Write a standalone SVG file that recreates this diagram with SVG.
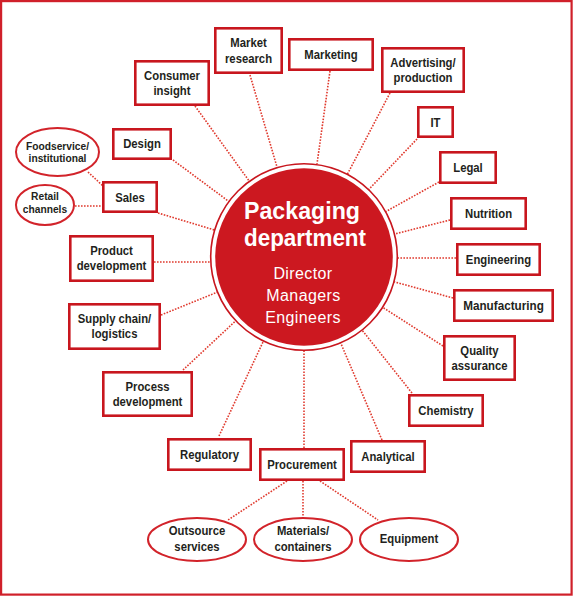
<svg xmlns="http://www.w3.org/2000/svg" width="574" height="597" viewBox="0 0 574 597">
<style>
.frame{fill:#fff;stroke:#d0202a;stroke-width:2.2}
.box rect{fill:#fff;stroke:#c8161e;stroke-width:2.6}
.ell ellipse{fill:#fff;stroke:#d2232a;stroke-width:2}
.lbl{font-family:"Liberation Sans",Arial,sans-serif;font-weight:bold;font-size:13px;fill:#231f20;text-anchor:middle}
.sm{font-size:11px}
.conn line{stroke:#e03a2e;stroke-width:1.6;stroke-dasharray:1.6 1.4}
.ct{font-family:"Liberation Sans",Arial,sans-serif;fill:#fff;text-anchor:middle}
.ctb{font-weight:bold;font-size:24px}
.cts{font-size:16px;letter-spacing:0.4px}
</style>
<rect class="frame" x="1.1" y="1.1" width="570.5" height="593.5"/>
<g id="connectors" class="conn">
<line x1="250" y1="75" x2="277" y2="167"/>
<line x1="330" y1="71" x2="317" y2="164"/>
<line x1="390" y1="93" x2="347.4" y2="174.2"/>
<line x1="417" y1="139" x2="368.7" y2="189.5"/>
<line x1="439" y1="182" x2="385.8" y2="211.6"/>
<line x1="450" y1="220" x2="394.6" y2="234"/>
<line x1="456" y1="258" x2="397.5" y2="258"/>
<line x1="453" y1="298" x2="394.2" y2="281.8"/>
<line x1="443" y1="346" x2="382.8" y2="307.4"/>
<line x1="412" y1="393" x2="362" y2="330"/>
<line x1="382" y1="440" x2="340.7" y2="343"/>
<line x1="304" y1="448" x2="304" y2="350.5"/>
<line x1="219" y1="436" x2="263" y2="342"/>
<line x1="183" y1="370" x2="235.7" y2="320.8"/>
<line x1="161" y1="315" x2="217.3" y2="292.2"/>
<line x1="154" y1="262" x2="210.6" y2="262"/>
<line x1="158" y1="213" x2="214.5" y2="230"/>
<line x1="173" y1="160" x2="228.8" y2="201.4"/>
<line x1="195" y1="106" x2="249.3" y2="181.2"/>
<line x1="88" y1="172" x2="103" y2="186"/>
<line x1="75" y1="206" x2="102" y2="206"/>
<line x1="287" y1="481" x2="228" y2="520"/>
<line x1="303" y1="481" x2="303" y2="517"/>
<line x1="320" y1="481" x2="378" y2="520"/>
</g>
<g id="center">
<circle cx="304" cy="257" r="93.3" fill="#fff" stroke="#c8161e" stroke-width="1.6"/>
<circle cx="304" cy="257" r="88.8" fill="#cc1820"/>
<text class="ct ctb" x="302" y="219" textLength="116" lengthAdjust="spacingAndGlyphs">Packaging</text>
<text class="ct ctb" x="305" y="246" textLength="122" lengthAdjust="spacingAndGlyphs">department</text>
<text class="ct cts" x="303" y="279">Director</text>
<text class="ct cts" x="303.5" y="301">Managers</text>
<text class="ct cts" x="303" y="323">Engineers</text>
</g>
<g id="market-research" class="box"><rect x="215.3" y="28.3" width="66.4" height="44.4"/><text class="lbl" transform="translate(248.5,46.5) scale(.87,1)">Market</text><text class="lbl" transform="translate(248.5,62.5) scale(.87,1)">research</text></g>
<g id="marketing" class="box"><rect x="289.3" y="39.3" width="83.4" height="30.4"/><text class="lbl" transform="translate(331,59) scale(.87,1)">Marketing</text></g>
<g id="advertising" class="box"><rect x="382.3" y="48.3" width="81.4" height="43.4"/><text class="lbl" transform="translate(423,66.5) scale(.87,1)">Advertising/</text><text class="lbl" transform="translate(423,82) scale(.87,1)">production</text></g>
<g id="it" class="box"><rect x="418.3" y="107.3" width="34.4" height="29.4"/><text class="lbl" transform="translate(435.5,126.5) scale(.87,1)">IT</text></g>
<g id="legal" class="box"><rect x="440.3" y="152.3" width="55.4" height="30.4"/><text class="lbl" transform="translate(468,172) scale(.87,1)">Legal</text></g>
<g id="nutrition" class="box"><rect x="451.3" y="198.3" width="74.4" height="30.4"/><text class="lbl" transform="translate(488.5,218) scale(.87,1)">Nutrition</text></g>
<g id="engineering" class="box"><rect x="457.3" y="244.3" width="82.4" height="30.4"/><text class="lbl" transform="translate(498.5,264) scale(.87,1)">Engineering</text></g>
<g id="manufacturing" class="box"><rect x="454.3" y="290.3" width="98.4" height="30.4"/><text class="lbl" transform="translate(503.5,310) scale(.9,1)">Manufacturing</text></g>
<g id="quality-assurance" class="box"><rect x="444.3" y="336.3" width="70.4" height="43.4"/><text class="lbl" transform="translate(479.5,354.5) scale(.87,1)">Quality</text><text class="lbl" transform="translate(479.5,370) scale(.87,1)">assurance</text></g>
<g id="chemistry" class="box"><rect x="409.3" y="395.3" width="73.4" height="30.4"/><text class="lbl" transform="translate(446,415) scale(.87,1)">Chemistry</text></g>
<g id="analytical" class="box"><rect x="351.3" y="441.3" width="73.4" height="30.4"/><text class="lbl" transform="translate(388,461) scale(.87,1)">Analytical</text></g>
<g id="procurement" class="box"><rect x="260.3" y="449.3" width="83.4" height="30.4"/><text class="lbl" transform="translate(302,469) scale(.87,1)">Procurement</text></g>
<g id="regulatory" class="box"><rect x="168.3" y="439.3" width="82.4" height="30.4"/><text class="lbl" transform="translate(209.5,459) scale(.87,1)">Regulatory</text></g>
<g id="process-development" class="box"><rect x="103.3" y="372.3" width="88.4" height="43.4"/><text class="lbl" transform="translate(147.5,390.5) scale(.87,1)">Process</text><text class="lbl" transform="translate(147.5,406) scale(.87,1)">development</text></g>
<g id="supply-chain" class="box"><rect x="69.3" y="304.3" width="90.4" height="44.4"/><text class="lbl" transform="translate(114.5,322.5) scale(.87,1)">Supply chain/</text><text class="lbl" transform="translate(114.5,338) scale(.87,1)">logistics</text></g>
<g id="product-development" class="box"><rect x="70.3" y="236.3" width="82.4" height="44.4"/><text class="lbl" transform="translate(111.5,254.5) scale(.87,1)">Product</text><text class="lbl" transform="translate(111.5,270) scale(.87,1)">development</text></g>
<g id="sales" class="box"><rect x="103.3" y="182.3" width="53.4" height="29.4"/><text class="lbl" transform="translate(130,201.5) scale(.87,1)">Sales</text></g>
<g id="design" class="box"><rect x="113.3" y="129.3" width="57.4" height="29.4"/><text class="lbl" transform="translate(142,148) scale(.87,1)">Design</text></g>
<g id="consumer-insight" class="box"><rect x="135.3" y="61.3" width="73.4" height="43.4"/><text class="lbl" transform="translate(172,79.5) scale(.87,1)">Consumer</text><text class="lbl" transform="translate(172,95) scale(.87,1)">insight</text></g>
<g id="foodservice" class="ell"><ellipse cx="57.5" cy="152" rx="41.5" ry="24"/><text class="lbl sm" transform="translate(57.5,149.5) scale(.93,1)">Foodservice/</text><text class="lbl sm" transform="translate(57.5,162) scale(.93,1)">institutional</text></g>
<g id="retail-channels" class="ell"><ellipse cx="45" cy="205" rx="29" ry="20"/><text class="lbl sm" transform="translate(45,200) scale(.93,1)">Retail</text><text class="lbl sm" transform="translate(45,212.5) scale(.93,1)">channels</text></g>
<g id="outsource-services" class="ell"><ellipse cx="197" cy="539.5" rx="49" ry="21.5"/><text class="lbl" transform="translate(197,535) scale(.87,1)">Outsource</text><text class="lbl" transform="translate(197,551) scale(.87,1)">services</text></g>
<g id="materials-containers" class="ell"><ellipse cx="303" cy="539.5" rx="49" ry="21.5"/><text class="lbl" transform="translate(303,535) scale(.87,1)">Materials/</text><text class="lbl" transform="translate(303,551) scale(.87,1)">containers</text></g>
<g id="equipment" class="ell"><ellipse cx="409" cy="539.5" rx="49" ry="21.5"/><text class="lbl" transform="translate(409,543) scale(.87,1)">Equipment</text></g>
</svg>
